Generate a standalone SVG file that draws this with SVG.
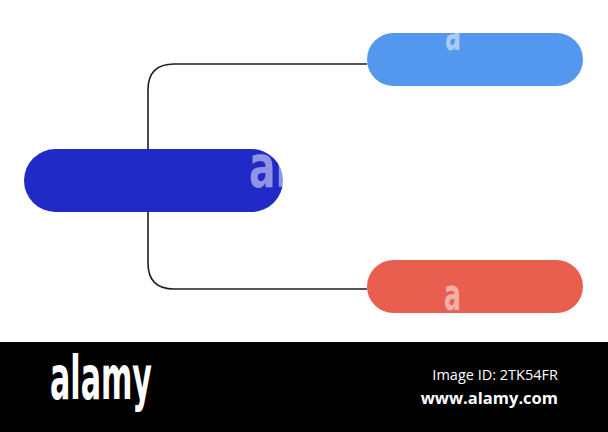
<svg xmlns="http://www.w3.org/2000/svg" width="608" height="432" viewBox="0 0 608 432">
<style>
.conn{fill:none;stroke:#1e1e1e;stroke-width:1.6}
.wm{font-family:"DejaVu Sans Condensed","DejaVu Sans","Liberation Sans",sans-serif;font-weight:bold;fill:#ffffff;fill-opacity:0.5;font-stretch:condensed}
.logo{font-family:"DejaVu Sans Condensed","DejaVu Sans","Liberation Sans",sans-serif;font-weight:bold;fill:#ffffff;font-stretch:condensed}
.info{font-family:"Open Sans","DejaVu Sans",sans-serif;fill:#ffffff}
</style>
<rect x="0" y="0" width="608" height="432" fill="#ffffff"/>
<g id="connectors">
<path class="conn" d="M367 64 H174 Q148 64 148 90 V263 Q148 289 174 289 H367"/>
</g>
<g id="node-center">
<rect x="24" y="149" width="259" height="63" rx="31.5" fill="#2129c6"/>
<text class="wm" x="249" y="187" font-size="58" textLength="40" lengthAdjust="spacingAndGlyphs">al</text>
</g>
<g id="node-top">
<rect x="367" y="33" width="216" height="53" rx="26.5" fill="#5398ee"/>
<text class="wm" x="445" y="50" font-size="44" textLength="16" lengthAdjust="spacingAndGlyphs">a</text>
</g>
<g id="node-bottom">
<rect x="367" y="260" width="216" height="53" rx="26.5" fill="#e85f4f"/>
<text class="wm" x="444" y="310" font-size="44" textLength="17" lengthAdjust="spacingAndGlyphs">a</text>
</g>
<g id="banner">
<rect x="0" y="342" width="608" height="90" fill="#000000"/>
<text class="logo" x="50" y="399" font-size="60" textLength="102" lengthAdjust="spacingAndGlyphs">alamy</text>
<text class="info" x="558" y="380" font-size="14.5" text-anchor="end">Image ID: 2TK54FR</text>
<text class="info" x="558" y="404" font-size="16.5" font-weight="bold" text-anchor="end">www.alamy.com</text>
</g>
</svg>
